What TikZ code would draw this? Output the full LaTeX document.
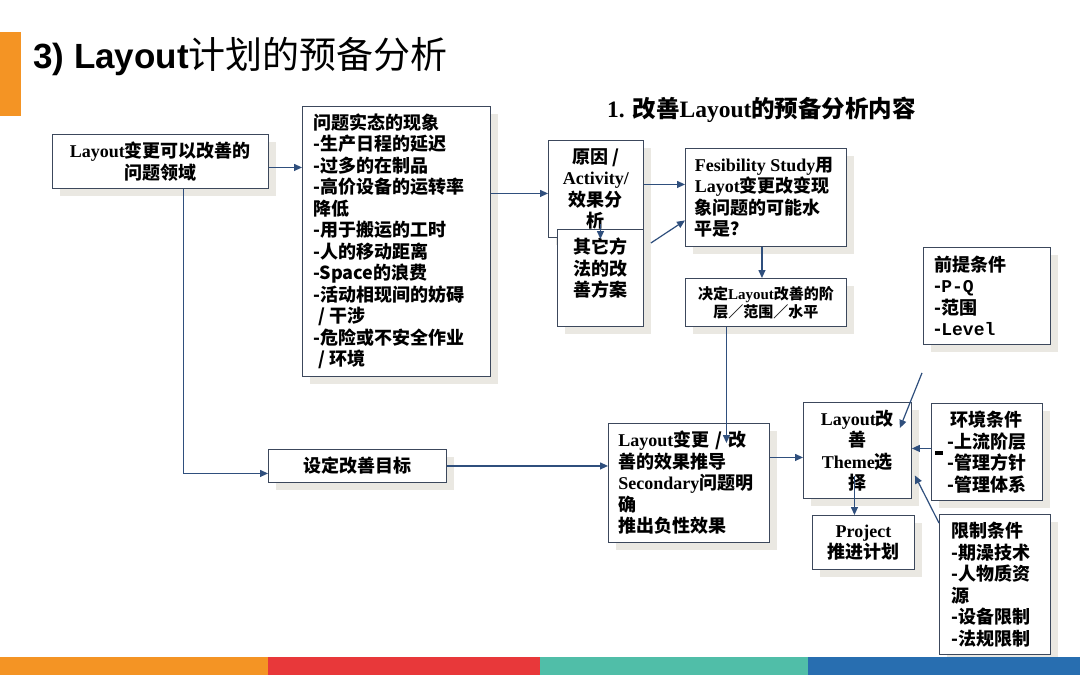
\documentclass[tikz,border=0pt]{standalone}
\usepackage{fontspec}
\setmainfont{Noto Sans CJK SC}
\newfontfamily\lat{Liberation Serif}
\newfontfamily\ar{Liberation Sans}
\newfontfamily\mono{Liberation Mono}
\usetikzlibrary{arrows.meta,shadows,calc}
\definecolor{boxc}{RGB}{60,72,92}
\definecolor{arrc}{RGB}{47,79,125}
\definecolor{shc}{RGB}{234,232,226}
\definecolor{orng}{RGB}{244,148,36}
\definecolor{redb}{RGB}{232,56,58}
\definecolor{teal}{RGB}{80,190,168}
\definecolor{blueb}{RGB}{40,110,176}
\begin{document}
\begin{tikzpicture}[x=1pt,y=-1pt,
 box/.style={draw=boxc,line width=0.9pt,fill=white,inner sep=0pt,anchor=north west,
   drop shadow={shadow xshift=8pt,shadow yshift=-8pt,fill=shc,opacity=1}},
 arr/.style={draw=arrc,line width=1.2pt,-{Triangle[length=8pt,width=7pt]}},
 txt/.style={font=\bfseries\fontsize{18pt}{21.5pt}\selectfont}
]
\fill[white] (0,0) rectangle (1080,675);
\useasboundingbox (0,0) rectangle (1080,675);

% title
\fill[orng] (0,32) rectangle (21,116);
\node[anchor=base west,inner sep=0pt] (ttl) at (33,68)
  {{\ar\bfseries\fontsize{35pt}{40pt}\selectfont 3) Layout}{\fontsize{37pt}{42pt}\selectfont 计划的预备分析}};
\node[anchor=west,inner sep=0pt,font=\bfseries\fontsize{23.5pt}{27pt}\selectfont] (hd) at (607,110)
  {{\lat 1. }改善{\lat Layout}的预备分析内容};

% boxes
\node[box,txt,minimum width=216pt,minimum height=54pt,text width=196pt,align=center] (A) at (52,134)
  {{\lat Layout}变更可以改善的\\问题领域};
\node[box,txt,minimum width=188pt,minimum height=270pt,text width=166pt,align=left] (B) at (302,106)
  {问题实态的现象\\-生产日程的延迟\\-过多的在制品\\-高价设备的运转率\\降低\\-用于搬运的工时\\-人的移动距离\\-Space的浪费\\-活动相现间的妨碍\\\hspace*{5pt}/\hspace{4pt}干涉\\-危险或不安全作业\\\hspace*{5pt}/\hspace{4pt}环境};
\node[box,minimum width=95pt,minimum height=97pt] (C) at (548,140) {};
\node[box,txt,minimum width=86pt,minimum height=97pt,text width=76pt,align=center] (D) at (557,229)
  {其它方\\法的改\\善方案\\\mbox{}};
\node[txt,align=center,inner sep=0pt] (Ct) at (C.center) {原因 /\\{\lat Activity/}\\效果分\\析};
\node[box,txt,minimum width=161pt,minimum height=98pt,text width=142pt,align=left] (E) at (685,148)
  {{\lat Fesibility\hspace{4.5pt}Study}用\\{\lat Layot}变更改变现\\象问题的可能水\\平是？};
\node[box,font=\bfseries\fontsize{15pt}{18pt}\selectfont,minimum width=161pt,minimum height=48pt,text width=150pt,align=center] (F) at (685,278)
  {决定{\lat Layout}改善的阶\\层／范围／水平};
\node[box,txt,minimum width=127pt,minimum height=97pt,text width=105pt,align=left] (G) at (923,247)
  {前提条件\\-{\mono P-Q}\\-范围\\-{\mono Level}};
\node[box,txt,minimum width=161pt,minimum height=119pt,text width=141pt,align=left] (H) at (608,423)
  {{\lat Layout}变更 / 改\\善的效果推导\\{\lat Secondary}问题明\\确\\推出负性效果};
\node[box,txt,minimum width=178pt,minimum height=33pt,text width=160pt,align=center] (I) at (268,449)
  {设定改善目标};
\node[box,txt,minimum width=108pt,minimum height=96pt,text width=98pt,align=center] (J) at (803,402)
  {{\lat Layout}改\\善\\{\lat Theme}选\\择};
\node[box,txt,minimum width=102pt,minimum height=54pt,text width=92pt,align=center] (K) at (812,515)
  {{\lat Project}\\推进计划};
\node[box,txt,minimum width=111pt,minimum height=97pt,text width=100pt,align=center] (L) at (931,403)
  {环境条件\\-上流阶层\\-管理方针\\-管理体系};
\node[box,txt,minimum width=111pt,minimum height=140pt,text width=87pt,align=left] (M) at (939,514)
  {限制条件\\-期澡技术\\-人物质资\\源\\-设备限制\\-法规限制};
\fill[black] (935,451) rectangle (943,455);

% connectors
\coordinate (a0) at ([yshift=-6pt]A.east);
\draw[arr] (a0) -- (a0 -| B.west);
\coordinate (c0) at ([yshift=-4.5pt]C.west);
\draw[arr] (c0 -| B.east) -- (c0);
\coordinate (c1) at ([yshift=4.5pt]C.east);
\draw[arr] (c1) -- (c1 -| E.west);
\draw[arr] ([shift={(7,14)}]D.north east) -- ([shift={(0,23)}]E.west);
\draw[arr] ([yshift=14pt]C.south -| D.north) -- ([yshift=-10pt]D.north);
\coordinate (e0) at ([xshift=-4pt]E.south);
\draw[arr] (e0) -- (e0 |- F.north);
\coordinate (f1) at ([xshift=-39.5pt]F.south);
\coordinate (h1) at ([yshift=-20pt]H.north);
\draw[arr] (f1) -- (f1 |- h1);
\coordinate (a1) at ([xshift=23pt]A.south);
\coordinate (i1) at ([yshift=-7.5pt]I.west);
\draw[arr] (a1) |- (i1);
\draw[arr] (I.east) -- (I.east -| H.west);
\coordinate (h2) at ([yshift=25.5pt]H.east);
\draw[arr] (h2) -- (h2 -| J.west);
\coordinate (j1) at ([shift={(-3,-23)}]J.south);
\draw[arr] (j1) -- (j1 |- K.north);
\coordinate (l1) at ([yshift=3.5pt]L.west);
\draw[arr] (l1) -- (l1 -| J.east);
\draw[arr] ([shift={(0,9)}]M.north west) -- ([shift={(3,25)}]J.east);
\coordinate (g1) at ([shift={(-1,28)}]G.south west);
\draw[arr] (g1) -- ([shift={(-12,26)}]J.north east);

% bottom bar
\fill[orng] (0,657) rectangle (268,675);
\fill[redb] (268,657) rectangle (540,675);
\fill[teal] (540,657) rectangle (808,675);
\fill[blueb] (808,657) rectangle (1080,675);
\end{tikzpicture}
\end{document}
